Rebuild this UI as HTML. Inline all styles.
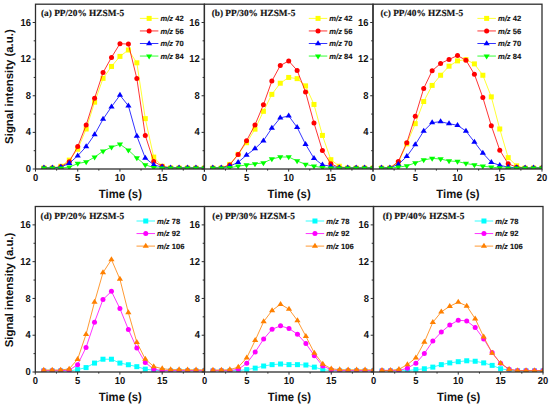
<!DOCTYPE html>
<html><head><meta charset="utf-8"><title>Signal intensity vs time</title>
<style>html,body{margin:0;padding:0;background:#fff;}body{width:550px;height:407px;overflow:hidden;}svg{display:block;text-rendering:geometricPrecision;}.tl{font-family:"Liberation Serif",serif;font-weight:bold;font-size:9.3px;fill:#111;stroke:#111;stroke-width:0.15px;}.tk{font-family:"Liberation Sans",sans-serif;font-weight:bold;font-size:9.4px;fill:#111;}.ax{font-family:"Liberation Sans",sans-serif;font-weight:bold;font-size:11.3px;fill:#111;}.lg{font-family:"Liberation Sans",sans-serif;font-size:7.6px;fill:#111;font-weight:bold;stroke:#111;stroke-width:0.12px;}.lg .it{font-style:italic;}</style></head><body>
<svg width="550" height="407" viewBox="0 0 550 407">
<rect x="0" y="0" width="550" height="407" fill="#fff"/>
<defs>
<clipPath id="c00"><rect x="35.50" y="4.20" width="168.90" height="164.80"/></clipPath>
<clipPath id="c01"><rect x="204.40" y="4.20" width="168.60" height="164.80"/></clipPath>
<clipPath id="c02"><rect x="373.00" y="4.20" width="169.00" height="164.80"/></clipPath>
<clipPath id="c10"><rect x="35.30" y="206.50" width="169.20" height="165.50"/></clipPath>
<clipPath id="c11"><rect x="204.50" y="206.50" width="169.00" height="165.50"/></clipPath>
<clipPath id="c12"><rect x="373.50" y="206.50" width="169.50" height="165.50"/></clipPath>
</defs>
<g clip-path="url(#c00)">
<polyline points="43.95,168.08 52.39,168.08 60.84,166.25 69.28,160.12 77.72,149.22 86.17,128.99 94.61,102.16 103.06,78.36 111.51,66.46 119.95,56.39 128.40,49.98 136.84,62.80 145.29,118.64 153.73,157.10 162.18,166.25 170.62,167.90 179.06,168.08 187.51,168.08 195.95,168.08 204.40,168.08" fill="none" stroke="#FFFF00" stroke-width="0.8" stroke-linejoin="round"/>
<rect x="41.45" y="165.58" width="5.00" height="5.00" fill="#FFFF00"/>
<rect x="49.89" y="165.58" width="5.00" height="5.00" fill="#FFFF00"/>
<rect x="58.34" y="163.75" width="5.00" height="5.00" fill="#FFFF00"/>
<rect x="66.78" y="157.62" width="5.00" height="5.00" fill="#FFFF00"/>
<rect x="75.22" y="146.72" width="5.00" height="5.00" fill="#FFFF00"/>
<rect x="83.67" y="126.49" width="5.00" height="5.00" fill="#FFFF00"/>
<rect x="92.11" y="99.66" width="5.00" height="5.00" fill="#FFFF00"/>
<rect x="100.56" y="75.86" width="5.00" height="5.00" fill="#FFFF00"/>
<rect x="109.01" y="63.96" width="5.00" height="5.00" fill="#FFFF00"/>
<rect x="117.45" y="53.89" width="5.00" height="5.00" fill="#FFFF00"/>
<rect x="125.90" y="47.48" width="5.00" height="5.00" fill="#FFFF00"/>
<rect x="134.34" y="60.30" width="5.00" height="5.00" fill="#FFFF00"/>
<rect x="142.79" y="116.14" width="5.00" height="5.00" fill="#FFFF00"/>
<rect x="151.23" y="154.60" width="5.00" height="5.00" fill="#FFFF00"/>
<rect x="159.68" y="163.75" width="5.00" height="5.00" fill="#FFFF00"/>
<rect x="168.12" y="165.40" width="5.00" height="5.00" fill="#FFFF00"/>
<rect x="176.56" y="165.58" width="5.00" height="5.00" fill="#FFFF00"/>
<rect x="185.01" y="165.58" width="5.00" height="5.00" fill="#FFFF00"/>
<rect x="193.45" y="165.58" width="5.00" height="5.00" fill="#FFFF00"/>
<rect x="201.90" y="165.58" width="5.00" height="5.00" fill="#FFFF00"/>
<polyline points="43.95,168.08 52.39,168.08 60.84,166.80 69.28,161.68 77.72,146.57 86.17,125.05 94.61,98.14 103.06,72.59 111.51,57.39 119.95,43.66 128.40,44.12 136.84,78.45 145.29,135.49 153.73,161.49 162.18,166.25 170.62,167.90 179.06,168.08 187.51,168.08 195.95,168.08 204.40,168.08" fill="none" stroke="#FF0000" stroke-width="0.8" stroke-linejoin="round"/>
<circle cx="43.95" cy="168.08" r="2.50" fill="#FF0000"/>
<circle cx="52.39" cy="168.08" r="2.50" fill="#FF0000"/>
<circle cx="60.84" cy="166.80" r="2.50" fill="#FF0000"/>
<circle cx="69.28" cy="161.68" r="2.50" fill="#FF0000"/>
<circle cx="77.72" cy="146.57" r="2.50" fill="#FF0000"/>
<circle cx="86.17" cy="125.05" r="2.50" fill="#FF0000"/>
<circle cx="94.61" cy="98.14" r="2.50" fill="#FF0000"/>
<circle cx="103.06" cy="72.59" r="2.50" fill="#FF0000"/>
<circle cx="111.51" cy="57.39" r="2.50" fill="#FF0000"/>
<circle cx="119.95" cy="43.66" r="2.50" fill="#FF0000"/>
<circle cx="128.40" cy="44.12" r="2.50" fill="#FF0000"/>
<circle cx="136.84" cy="78.45" r="2.50" fill="#FF0000"/>
<circle cx="145.29" cy="135.49" r="2.50" fill="#FF0000"/>
<circle cx="153.73" cy="161.49" r="2.50" fill="#FF0000"/>
<circle cx="162.18" cy="166.25" r="2.50" fill="#FF0000"/>
<circle cx="170.62" cy="167.90" r="2.50" fill="#FF0000"/>
<circle cx="179.06" cy="168.08" r="2.50" fill="#FF0000"/>
<circle cx="187.51" cy="168.08" r="2.50" fill="#FF0000"/>
<circle cx="195.95" cy="168.08" r="2.50" fill="#FF0000"/>
<circle cx="204.40" cy="168.08" r="2.50" fill="#FF0000"/>
<polyline points="43.95,167.90 52.39,167.90 60.84,167.17 69.28,163.42 77.72,155.72 86.17,146.66 94.61,134.48 103.06,119.19 111.51,106.74 119.95,95.21 128.40,105.83 136.84,136.04 145.29,158.01 153.73,164.88 162.18,167.17 170.62,167.90 179.06,167.90 187.51,167.90 195.95,167.90 204.40,167.90" fill="none" stroke="#0000FF" stroke-width="0.8" stroke-linejoin="round"/>
<path d="M43.95 164.57L47.05 169.57L40.84 169.57Z" fill="#0000FF"/>
<path d="M52.39 164.57L55.49 169.57L49.29 169.57Z" fill="#0000FF"/>
<path d="M60.84 163.84L63.94 168.84L57.73 168.84Z" fill="#0000FF"/>
<path d="M69.28 160.08L72.38 165.08L66.18 165.08Z" fill="#0000FF"/>
<path d="M77.72 152.39L80.82 157.39L74.62 157.39Z" fill="#0000FF"/>
<path d="M86.17 143.33L89.27 148.33L83.07 148.33Z" fill="#0000FF"/>
<path d="M94.61 131.15L97.71 136.15L91.52 136.15Z" fill="#0000FF"/>
<path d="M103.06 115.86L106.16 120.86L99.96 120.86Z" fill="#0000FF"/>
<path d="M111.51 103.41L114.61 108.41L108.41 108.41Z" fill="#0000FF"/>
<path d="M119.95 91.87L123.05 96.87L116.85 96.87Z" fill="#0000FF"/>
<path d="M128.40 102.49L131.50 107.49L125.30 107.49Z" fill="#0000FF"/>
<path d="M136.84 132.71L139.94 137.71L133.74 137.71Z" fill="#0000FF"/>
<path d="M145.29 154.68L148.39 159.68L142.19 159.68Z" fill="#0000FF"/>
<path d="M153.73 161.55L156.83 166.55L150.63 166.55Z" fill="#0000FF"/>
<path d="M162.18 163.84L165.28 168.84L159.08 168.84Z" fill="#0000FF"/>
<path d="M170.62 164.57L173.72 169.57L167.52 169.57Z" fill="#0000FF"/>
<path d="M179.06 164.57L182.16 169.57L175.97 169.57Z" fill="#0000FF"/>
<path d="M187.51 164.57L190.61 169.57L184.41 169.57Z" fill="#0000FF"/>
<path d="M195.95 164.57L199.05 169.57L192.85 169.57Z" fill="#0000FF"/>
<path d="M204.40 164.57L207.50 169.57L201.30 169.57Z" fill="#0000FF"/>
<polyline points="43.95,168.08 52.39,168.08 60.84,168.08 69.28,167.17 77.72,163.51 86.17,161.95 94.61,157.10 103.06,151.15 111.51,147.21 119.95,144.28 128.40,150.14 136.84,158.01 145.29,164.88 153.73,167.63 162.18,168.08 170.62,168.08 179.06,168.08 187.51,168.08 195.95,168.08 204.40,168.08" fill="none" stroke="#00FF00" stroke-width="0.8" stroke-linejoin="round"/>
<path d="M43.95 171.42L47.05 166.42L40.84 166.42Z" fill="#00FF00"/>
<path d="M52.39 171.42L55.49 166.42L49.29 166.42Z" fill="#00FF00"/>
<path d="M60.84 171.42L63.94 166.42L57.73 166.42Z" fill="#00FF00"/>
<path d="M69.28 170.50L72.38 165.50L66.18 165.50Z" fill="#00FF00"/>
<path d="M77.72 166.84L80.82 161.84L74.62 161.84Z" fill="#00FF00"/>
<path d="M86.17 165.28L89.27 160.28L83.07 160.28Z" fill="#00FF00"/>
<path d="M94.61 160.43L97.71 155.43L91.52 155.43Z" fill="#00FF00"/>
<path d="M103.06 154.48L106.16 149.48L99.96 149.48Z" fill="#00FF00"/>
<path d="M111.51 150.54L114.61 145.54L108.41 145.54Z" fill="#00FF00"/>
<path d="M119.95 147.61L123.05 142.61L116.85 142.61Z" fill="#00FF00"/>
<path d="M128.40 153.47L131.50 148.47L125.30 148.47Z" fill="#00FF00"/>
<path d="M136.84 161.35L139.94 156.35L133.74 156.35Z" fill="#00FF00"/>
<path d="M145.29 168.21L148.39 163.21L142.19 163.21Z" fill="#00FF00"/>
<path d="M153.73 170.96L156.83 165.96L150.63 165.96Z" fill="#00FF00"/>
<path d="M162.18 171.42L165.28 166.42L159.08 166.42Z" fill="#00FF00"/>
<path d="M170.62 171.42L173.72 166.42L167.52 166.42Z" fill="#00FF00"/>
<path d="M179.06 171.42L182.16 166.42L175.97 166.42Z" fill="#00FF00"/>
<path d="M187.51 171.42L190.61 166.42L184.41 166.42Z" fill="#00FF00"/>
<path d="M195.95 171.42L199.05 166.42L192.85 166.42Z" fill="#00FF00"/>
<path d="M204.40 171.42L207.50 166.42L201.30 166.42Z" fill="#00FF00"/>
</g>
<line x1="139.90" y1="18.40" x2="158.40" y2="18.40" stroke="#FFFF00" stroke-width="0.8"/>
<rect x="146.65" y="15.90" width="5.00" height="5.00" fill="#FFFF00"/>
<text class="lg" x="160.40" y="21.20"><tspan class="it">m/z</tspan> 42</text>
<line x1="139.90" y1="30.95" x2="158.40" y2="30.95" stroke="#FF0000" stroke-width="0.8"/>
<circle cx="149.15" cy="30.95" r="2.50" fill="#FF0000"/>
<text class="lg" x="160.40" y="33.75"><tspan class="it">m/z</tspan> 56</text>
<line x1="139.90" y1="43.50" x2="158.40" y2="43.50" stroke="#0000FF" stroke-width="0.8"/>
<path d="M149.15 40.17L152.25 45.17L146.05 45.17Z" fill="#0000FF"/>
<text class="lg" x="160.40" y="46.30"><tspan class="it">m/z</tspan> 70</text>
<line x1="139.90" y1="56.05" x2="158.40" y2="56.05" stroke="#00FF00" stroke-width="0.8"/>
<path d="M149.15 59.38L152.25 54.38L146.05 54.38Z" fill="#00FF00"/>
<text class="lg" x="160.40" y="58.85"><tspan class="it">m/z</tspan> 84</text>
<text class="tl" x="41.00" y="15.50">(a) PP/20% HZSM-5</text>
<g clip-path="url(#c01)">
<polyline points="212.83,168.08 221.26,168.08 229.69,164.42 238.12,154.35 246.55,142.72 254.98,129.17 263.41,111.32 271.84,94.38 280.27,83.21 288.70,77.44 297.13,78.63 305.56,85.87 313.99,104.45 322.42,135.40 330.85,159.66 339.28,166.25 347.71,168.08 356.14,168.08 364.57,168.08 373.00,168.08" fill="none" stroke="#FFFF00" stroke-width="0.8" stroke-linejoin="round"/>
<rect x="210.33" y="165.58" width="5.00" height="5.00" fill="#FFFF00"/>
<rect x="218.76" y="165.58" width="5.00" height="5.00" fill="#FFFF00"/>
<rect x="227.19" y="161.92" width="5.00" height="5.00" fill="#FFFF00"/>
<rect x="235.62" y="151.85" width="5.00" height="5.00" fill="#FFFF00"/>
<rect x="244.05" y="140.22" width="5.00" height="5.00" fill="#FFFF00"/>
<rect x="252.48" y="126.67" width="5.00" height="5.00" fill="#FFFF00"/>
<rect x="260.91" y="108.82" width="5.00" height="5.00" fill="#FFFF00"/>
<rect x="269.34" y="91.88" width="5.00" height="5.00" fill="#FFFF00"/>
<rect x="277.77" y="80.71" width="5.00" height="5.00" fill="#FFFF00"/>
<rect x="286.20" y="74.94" width="5.00" height="5.00" fill="#FFFF00"/>
<rect x="294.63" y="76.13" width="5.00" height="5.00" fill="#FFFF00"/>
<rect x="303.06" y="83.37" width="5.00" height="5.00" fill="#FFFF00"/>
<rect x="311.49" y="101.95" width="5.00" height="5.00" fill="#FFFF00"/>
<rect x="319.92" y="132.90" width="5.00" height="5.00" fill="#FFFF00"/>
<rect x="328.35" y="157.16" width="5.00" height="5.00" fill="#FFFF00"/>
<rect x="336.78" y="163.75" width="5.00" height="5.00" fill="#FFFF00"/>
<rect x="345.21" y="165.58" width="5.00" height="5.00" fill="#FFFF00"/>
<rect x="353.64" y="165.58" width="5.00" height="5.00" fill="#FFFF00"/>
<rect x="362.07" y="165.58" width="5.00" height="5.00" fill="#FFFF00"/>
<rect x="370.50" y="165.58" width="5.00" height="5.00" fill="#FFFF00"/>
<polyline points="212.83,168.08 221.26,168.08 229.69,164.88 238.12,154.53 246.55,140.71 254.98,124.96 263.41,104.73 271.84,81.11 280.27,65.54 288.70,60.96 297.13,70.39 305.56,92.00 313.99,123.04 322.42,150.51 330.85,163.87 339.28,167.63 347.71,168.08 356.14,168.08 364.57,168.08 373.00,168.08" fill="none" stroke="#FF0000" stroke-width="0.8" stroke-linejoin="round"/>
<circle cx="212.83" cy="168.08" r="2.50" fill="#FF0000"/>
<circle cx="221.26" cy="168.08" r="2.50" fill="#FF0000"/>
<circle cx="229.69" cy="164.88" r="2.50" fill="#FF0000"/>
<circle cx="238.12" cy="154.53" r="2.50" fill="#FF0000"/>
<circle cx="246.55" cy="140.71" r="2.50" fill="#FF0000"/>
<circle cx="254.98" cy="124.96" r="2.50" fill="#FF0000"/>
<circle cx="263.41" cy="104.73" r="2.50" fill="#FF0000"/>
<circle cx="271.84" cy="81.11" r="2.50" fill="#FF0000"/>
<circle cx="280.27" cy="65.54" r="2.50" fill="#FF0000"/>
<circle cx="288.70" cy="60.96" r="2.50" fill="#FF0000"/>
<circle cx="297.13" cy="70.39" r="2.50" fill="#FF0000"/>
<circle cx="305.56" cy="92.00" r="2.50" fill="#FF0000"/>
<circle cx="313.99" cy="123.04" r="2.50" fill="#FF0000"/>
<circle cx="322.42" cy="150.51" r="2.50" fill="#FF0000"/>
<circle cx="330.85" cy="163.87" r="2.50" fill="#FF0000"/>
<circle cx="339.28" cy="167.63" r="2.50" fill="#FF0000"/>
<circle cx="347.71" cy="168.08" r="2.50" fill="#FF0000"/>
<circle cx="356.14" cy="168.08" r="2.50" fill="#FF0000"/>
<circle cx="364.57" cy="168.08" r="2.50" fill="#FF0000"/>
<circle cx="373.00" cy="168.08" r="2.50" fill="#FF0000"/>
<polyline points="212.83,167.90 221.26,167.90 229.69,166.25 238.12,162.32 246.55,155.08 254.98,148.67 263.41,140.71 271.84,128.17 280.27,117.91 288.70,115.90 297.13,127.34 305.56,144.28 313.99,158.38 322.42,164.88 330.85,166.25 339.28,167.90 347.71,167.90 356.14,167.90 364.57,167.90 373.00,167.90" fill="none" stroke="#0000FF" stroke-width="0.8" stroke-linejoin="round"/>
<path d="M212.83 164.57L215.93 169.57L209.73 169.57Z" fill="#0000FF"/>
<path d="M221.26 164.57L224.36 169.57L218.16 169.57Z" fill="#0000FF"/>
<path d="M229.69 162.92L232.79 167.92L226.59 167.92Z" fill="#0000FF"/>
<path d="M238.12 158.98L241.22 163.98L235.02 163.98Z" fill="#0000FF"/>
<path d="M246.55 151.75L249.65 156.75L243.45 156.75Z" fill="#0000FF"/>
<path d="M254.98 145.34L258.08 150.34L251.88 150.34Z" fill="#0000FF"/>
<path d="M263.41 137.38L266.51 142.38L260.31 142.38Z" fill="#0000FF"/>
<path d="M271.84 124.83L274.94 129.83L268.74 129.83Z" fill="#0000FF"/>
<path d="M280.27 114.58L283.37 119.58L277.17 119.58Z" fill="#0000FF"/>
<path d="M288.70 112.56L291.80 117.56L285.60 117.56Z" fill="#0000FF"/>
<path d="M297.13 124.01L300.23 129.01L294.03 129.01Z" fill="#0000FF"/>
<path d="M305.56 140.95L308.66 145.95L302.46 145.95Z" fill="#0000FF"/>
<path d="M313.99 155.05L317.09 160.05L310.89 160.05Z" fill="#0000FF"/>
<path d="M322.42 161.55L325.52 166.55L319.32 166.55Z" fill="#0000FF"/>
<path d="M330.85 162.92L333.95 167.92L327.75 167.92Z" fill="#0000FF"/>
<path d="M339.28 164.57L342.38 169.57L336.18 169.57Z" fill="#0000FF"/>
<path d="M347.71 164.57L350.81 169.57L344.61 169.57Z" fill="#0000FF"/>
<path d="M356.14 164.57L359.24 169.57L353.04 169.57Z" fill="#0000FF"/>
<path d="M364.57 164.57L367.67 169.57L361.47 169.57Z" fill="#0000FF"/>
<path d="M373.00 164.57L376.10 169.57L369.90 169.57Z" fill="#0000FF"/>
<polyline points="212.83,168.08 221.26,168.08 229.69,167.63 238.12,166.25 246.55,164.88 254.98,163.87 263.41,162.87 271.84,159.02 280.27,157.01 288.70,157.01 297.13,160.94 305.56,164.33 313.99,166.25 322.42,167.63 330.85,168.08 339.28,168.08 347.71,168.08 356.14,168.08 364.57,168.08 373.00,168.08" fill="none" stroke="#00FF00" stroke-width="0.8" stroke-linejoin="round"/>
<path d="M212.83 171.42L215.93 166.42L209.73 166.42Z" fill="#00FF00"/>
<path d="M221.26 171.42L224.36 166.42L218.16 166.42Z" fill="#00FF00"/>
<path d="M229.69 170.96L232.79 165.96L226.59 165.96Z" fill="#00FF00"/>
<path d="M238.12 169.59L241.22 164.59L235.02 164.59Z" fill="#00FF00"/>
<path d="M246.55 168.21L249.65 163.21L243.45 163.21Z" fill="#00FF00"/>
<path d="M254.98 167.21L258.08 162.21L251.88 162.21Z" fill="#00FF00"/>
<path d="M263.41 166.20L266.51 161.20L260.31 161.20Z" fill="#00FF00"/>
<path d="M271.84 162.35L274.94 157.35L268.74 157.35Z" fill="#00FF00"/>
<path d="M280.27 160.34L283.37 155.34L277.17 155.34Z" fill="#00FF00"/>
<path d="M288.70 160.34L291.80 155.34L285.60 155.34Z" fill="#00FF00"/>
<path d="M297.13 164.28L300.23 159.28L294.03 159.28Z" fill="#00FF00"/>
<path d="M305.56 167.66L308.66 162.66L302.46 162.66Z" fill="#00FF00"/>
<path d="M313.99 169.59L317.09 164.59L310.89 164.59Z" fill="#00FF00"/>
<path d="M322.42 170.96L325.52 165.96L319.32 165.96Z" fill="#00FF00"/>
<path d="M330.85 171.42L333.95 166.42L327.75 166.42Z" fill="#00FF00"/>
<path d="M339.28 171.42L342.38 166.42L336.18 166.42Z" fill="#00FF00"/>
<path d="M347.71 171.42L350.81 166.42L344.61 166.42Z" fill="#00FF00"/>
<path d="M356.14 171.42L359.24 166.42L353.04 166.42Z" fill="#00FF00"/>
<path d="M364.57 171.42L367.67 166.42L361.47 166.42Z" fill="#00FF00"/>
<path d="M373.00 171.42L376.10 166.42L369.90 166.42Z" fill="#00FF00"/>
</g>
<line x1="308.80" y1="18.40" x2="327.30" y2="18.40" stroke="#FFFF00" stroke-width="0.8"/>
<rect x="315.55" y="15.90" width="5.00" height="5.00" fill="#FFFF00"/>
<text class="lg" x="329.30" y="21.20"><tspan class="it">m/z</tspan> 42</text>
<line x1="308.80" y1="30.95" x2="327.30" y2="30.95" stroke="#FF0000" stroke-width="0.8"/>
<circle cx="318.05" cy="30.95" r="2.50" fill="#FF0000"/>
<text class="lg" x="329.30" y="33.75"><tspan class="it">m/z</tspan> 56</text>
<line x1="308.80" y1="43.50" x2="327.30" y2="43.50" stroke="#0000FF" stroke-width="0.8"/>
<path d="M318.05 40.17L321.15 45.17L314.95 45.17Z" fill="#0000FF"/>
<text class="lg" x="329.30" y="46.30"><tspan class="it">m/z</tspan> 70</text>
<line x1="308.80" y1="56.05" x2="327.30" y2="56.05" stroke="#00FF00" stroke-width="0.8"/>
<path d="M318.05 59.38L321.15 54.38L314.95 54.38Z" fill="#00FF00"/>
<text class="lg" x="329.30" y="58.85"><tspan class="it">m/z</tspan> 84</text>
<text class="tl" x="211.70" y="15.50">(b) PP/30% HZSM-5</text>
<g clip-path="url(#c02)">
<polyline points="381.45,168.08 389.90,168.08 398.35,162.59 406.80,143.82 415.25,123.68 423.70,101.52 432.15,85.41 440.60,75.25 449.05,66.18 457.50,60.87 465.95,59.59 474.40,63.89 482.85,75.25 491.30,96.85 499.75,128.99 508.20,157.65 516.65,165.80 525.10,168.08 533.55,168.08 542.00,168.08" fill="none" stroke="#FFFF00" stroke-width="0.8" stroke-linejoin="round"/>
<rect x="378.95" y="165.58" width="5.00" height="5.00" fill="#FFFF00"/>
<rect x="387.40" y="165.58" width="5.00" height="5.00" fill="#FFFF00"/>
<rect x="395.85" y="160.09" width="5.00" height="5.00" fill="#FFFF00"/>
<rect x="404.30" y="141.32" width="5.00" height="5.00" fill="#FFFF00"/>
<rect x="412.75" y="121.18" width="5.00" height="5.00" fill="#FFFF00"/>
<rect x="421.20" y="99.02" width="5.00" height="5.00" fill="#FFFF00"/>
<rect x="429.65" y="82.91" width="5.00" height="5.00" fill="#FFFF00"/>
<rect x="438.10" y="72.75" width="5.00" height="5.00" fill="#FFFF00"/>
<rect x="446.55" y="63.68" width="5.00" height="5.00" fill="#FFFF00"/>
<rect x="455.00" y="58.37" width="5.00" height="5.00" fill="#FFFF00"/>
<rect x="463.45" y="57.09" width="5.00" height="5.00" fill="#FFFF00"/>
<rect x="471.90" y="61.39" width="5.00" height="5.00" fill="#FFFF00"/>
<rect x="480.35" y="72.75" width="5.00" height="5.00" fill="#FFFF00"/>
<rect x="488.80" y="94.35" width="5.00" height="5.00" fill="#FFFF00"/>
<rect x="497.25" y="126.49" width="5.00" height="5.00" fill="#FFFF00"/>
<rect x="505.70" y="155.15" width="5.00" height="5.00" fill="#FFFF00"/>
<rect x="514.15" y="163.30" width="5.00" height="5.00" fill="#FFFF00"/>
<rect x="522.60" y="165.58" width="5.00" height="5.00" fill="#FFFF00"/>
<rect x="531.05" y="165.58" width="5.00" height="5.00" fill="#FFFF00"/>
<rect x="539.50" y="165.58" width="5.00" height="5.00" fill="#FFFF00"/>
<polyline points="381.45,168.08 389.90,168.08 398.35,161.49 406.80,142.72 415.25,116.36 423.70,88.43 432.15,70.76 440.60,63.44 449.05,59.41 457.50,55.56 465.95,60.23 474.40,74.24 482.85,97.59 491.30,125.69 499.75,150.14 508.20,163.87 516.65,167.17 525.10,168.08 533.55,168.08 542.00,168.08" fill="none" stroke="#FF0000" stroke-width="0.8" stroke-linejoin="round"/>
<circle cx="381.45" cy="168.08" r="2.50" fill="#FF0000"/>
<circle cx="389.90" cy="168.08" r="2.50" fill="#FF0000"/>
<circle cx="398.35" cy="161.49" r="2.50" fill="#FF0000"/>
<circle cx="406.80" cy="142.72" r="2.50" fill="#FF0000"/>
<circle cx="415.25" cy="116.36" r="2.50" fill="#FF0000"/>
<circle cx="423.70" cy="88.43" r="2.50" fill="#FF0000"/>
<circle cx="432.15" cy="70.76" r="2.50" fill="#FF0000"/>
<circle cx="440.60" cy="63.44" r="2.50" fill="#FF0000"/>
<circle cx="449.05" cy="59.41" r="2.50" fill="#FF0000"/>
<circle cx="457.50" cy="55.56" r="2.50" fill="#FF0000"/>
<circle cx="465.95" cy="60.23" r="2.50" fill="#FF0000"/>
<circle cx="474.40" cy="74.24" r="2.50" fill="#FF0000"/>
<circle cx="482.85" cy="97.59" r="2.50" fill="#FF0000"/>
<circle cx="491.30" cy="125.69" r="2.50" fill="#FF0000"/>
<circle cx="499.75" cy="150.14" r="2.50" fill="#FF0000"/>
<circle cx="508.20" cy="163.87" r="2.50" fill="#FF0000"/>
<circle cx="516.65" cy="167.17" r="2.50" fill="#FF0000"/>
<circle cx="525.10" cy="168.08" r="2.50" fill="#FF0000"/>
<circle cx="533.55" cy="168.08" r="2.50" fill="#FF0000"/>
<circle cx="542.00" cy="168.08" r="2.50" fill="#FF0000"/>
<polyline points="381.45,167.90 389.90,167.90 398.35,164.33 406.80,156.46 415.25,144.65 423.70,131.00 432.15,122.67 440.60,121.67 449.05,123.68 457.50,125.33 465.95,131.00 474.40,141.99 482.85,153.16 491.30,162.32 499.75,165.34 508.20,167.17 516.65,167.90 525.10,167.90 533.55,167.90 542.00,167.90" fill="none" stroke="#0000FF" stroke-width="0.8" stroke-linejoin="round"/>
<path d="M381.45 164.57L384.55 169.57L378.35 169.57Z" fill="#0000FF"/>
<path d="M389.90 164.57L393.00 169.57L386.80 169.57Z" fill="#0000FF"/>
<path d="M398.35 161.00L401.45 166.00L395.25 166.00Z" fill="#0000FF"/>
<path d="M406.80 153.12L409.90 158.12L403.70 158.12Z" fill="#0000FF"/>
<path d="M415.25 141.31L418.35 146.31L412.15 146.31Z" fill="#0000FF"/>
<path d="M423.70 127.67L426.80 132.67L420.60 132.67Z" fill="#0000FF"/>
<path d="M432.15 119.34L435.25 124.34L429.05 124.34Z" fill="#0000FF"/>
<path d="M440.60 118.33L443.70 123.33L437.50 123.33Z" fill="#0000FF"/>
<path d="M449.05 120.35L452.15 125.35L445.95 125.35Z" fill="#0000FF"/>
<path d="M457.50 121.99L460.60 126.99L454.40 126.99Z" fill="#0000FF"/>
<path d="M465.95 127.67L469.05 132.67L462.85 132.67Z" fill="#0000FF"/>
<path d="M474.40 138.66L477.50 143.66L471.30 143.66Z" fill="#0000FF"/>
<path d="M482.85 149.83L485.95 154.83L479.75 154.83Z" fill="#0000FF"/>
<path d="M491.30 158.98L494.40 163.98L488.20 163.98Z" fill="#0000FF"/>
<path d="M499.75 162.00L502.85 167.00L496.65 167.00Z" fill="#0000FF"/>
<path d="M508.20 163.84L511.30 168.84L505.10 168.84Z" fill="#0000FF"/>
<path d="M516.65 164.57L519.75 169.57L513.55 169.57Z" fill="#0000FF"/>
<path d="M525.10 164.57L528.20 169.57L522.00 169.57Z" fill="#0000FF"/>
<path d="M533.55 164.57L536.65 169.57L530.45 169.57Z" fill="#0000FF"/>
<path d="M542.00 164.57L545.10 169.57L538.90 169.57Z" fill="#0000FF"/>
<polyline points="381.45,168.08 389.90,168.08 398.35,167.17 406.80,165.89 415.25,162.87 423.70,160.03 432.15,158.38 440.60,159.02 449.05,160.94 457.50,161.49 465.95,163.51 474.40,164.88 482.85,166.25 491.30,167.17 499.75,167.90 508.20,168.08 516.65,168.08 525.10,168.08 533.55,168.08 542.00,168.08" fill="none" stroke="#00FF00" stroke-width="0.8" stroke-linejoin="round"/>
<path d="M381.45 171.42L384.55 166.42L378.35 166.42Z" fill="#00FF00"/>
<path d="M389.90 171.42L393.00 166.42L386.80 166.42Z" fill="#00FF00"/>
<path d="M398.35 170.50L401.45 165.50L395.25 165.50Z" fill="#00FF00"/>
<path d="M406.80 169.22L409.90 164.22L403.70 164.22Z" fill="#00FF00"/>
<path d="M415.25 166.20L418.35 161.20L412.15 161.20Z" fill="#00FF00"/>
<path d="M423.70 163.36L426.80 158.36L420.60 158.36Z" fill="#00FF00"/>
<path d="M432.15 161.71L435.25 156.71L429.05 156.71Z" fill="#00FF00"/>
<path d="M440.60 162.35L443.70 157.35L437.50 157.35Z" fill="#00FF00"/>
<path d="M449.05 164.28L452.15 159.28L445.95 159.28Z" fill="#00FF00"/>
<path d="M457.50 164.83L460.60 159.83L454.40 159.83Z" fill="#00FF00"/>
<path d="M465.95 166.84L469.05 161.84L462.85 161.84Z" fill="#00FF00"/>
<path d="M474.40 168.21L477.50 163.21L471.30 163.21Z" fill="#00FF00"/>
<path d="M482.85 169.59L485.95 164.59L479.75 164.59Z" fill="#00FF00"/>
<path d="M491.30 170.50L494.40 165.50L488.20 165.50Z" fill="#00FF00"/>
<path d="M499.75 171.23L502.85 166.23L496.65 166.23Z" fill="#00FF00"/>
<path d="M508.20 171.42L511.30 166.42L505.10 166.42Z" fill="#00FF00"/>
<path d="M516.65 171.42L519.75 166.42L513.55 166.42Z" fill="#00FF00"/>
<path d="M525.10 171.42L528.20 166.42L522.00 166.42Z" fill="#00FF00"/>
<path d="M533.55 171.42L536.65 166.42L530.45 166.42Z" fill="#00FF00"/>
<path d="M542.00 171.42L545.10 166.42L538.90 166.42Z" fill="#00FF00"/>
</g>
<line x1="477.40" y1="18.40" x2="495.90" y2="18.40" stroke="#FFFF00" stroke-width="0.8"/>
<rect x="484.15" y="15.90" width="5.00" height="5.00" fill="#FFFF00"/>
<text class="lg" x="497.90" y="21.20"><tspan class="it">m/z</tspan> 42</text>
<line x1="477.40" y1="30.95" x2="495.90" y2="30.95" stroke="#FF0000" stroke-width="0.8"/>
<circle cx="486.65" cy="30.95" r="2.50" fill="#FF0000"/>
<text class="lg" x="497.90" y="33.75"><tspan class="it">m/z</tspan> 56</text>
<line x1="477.40" y1="43.50" x2="495.90" y2="43.50" stroke="#0000FF" stroke-width="0.8"/>
<path d="M486.65 40.17L489.75 45.17L483.55 45.17Z" fill="#0000FF"/>
<text class="lg" x="497.90" y="46.30"><tspan class="it">m/z</tspan> 70</text>
<line x1="477.40" y1="56.05" x2="495.90" y2="56.05" stroke="#00FF00" stroke-width="0.8"/>
<path d="M486.65 59.38L489.75 54.38L483.55 54.38Z" fill="#00FF00"/>
<text class="lg" x="497.90" y="58.85"><tspan class="it">m/z</tspan> 84</text>
<text class="tl" x="380.50" y="15.50">(c) PP/40% HZSM-5</text>
<rect x="35.50" y="4.20" width="168.90" height="164.80" fill="none" stroke="#2e2e2e" stroke-width="1.3"/>
<line x1="35.50" y1="169.00" x2="35.50" y2="171.60" stroke="#2e2e2e" stroke-width="1"/>
<line x1="77.72" y1="169.00" x2="77.72" y2="171.60" stroke="#2e2e2e" stroke-width="1"/>
<line x1="119.95" y1="169.00" x2="119.95" y2="171.60" stroke="#2e2e2e" stroke-width="1"/>
<line x1="162.18" y1="169.00" x2="162.18" y2="171.60" stroke="#2e2e2e" stroke-width="1"/>
<line x1="204.40" y1="169.00" x2="204.40" y2="171.60" stroke="#2e2e2e" stroke-width="1"/>
<line x1="56.61" y1="169.00" x2="56.61" y2="170.60" stroke="#2e2e2e" stroke-width="1"/>
<line x1="98.84" y1="169.00" x2="98.84" y2="170.60" stroke="#2e2e2e" stroke-width="1"/>
<line x1="141.06" y1="169.00" x2="141.06" y2="170.60" stroke="#2e2e2e" stroke-width="1"/>
<line x1="183.29" y1="169.00" x2="183.29" y2="170.60" stroke="#2e2e2e" stroke-width="1"/>
<text class="tk" transform="translate(35.50 180.80) scale(1 1.07)" text-anchor="middle">0</text>
<text class="tk" transform="translate(77.72 180.80) scale(1 1.07)" text-anchor="middle">5</text>
<text class="tk" transform="translate(119.95 180.80) scale(1 1.07)" text-anchor="middle">10</text>
<text class="tk" transform="translate(162.18 180.80) scale(1 1.07)" text-anchor="middle">15</text>
<line x1="32.70" y1="169.00" x2="35.50" y2="169.00" stroke="#2e2e2e" stroke-width="1"/>
<line x1="33.70" y1="150.69" x2="35.50" y2="150.69" stroke="#2e2e2e" stroke-width="1"/>
<line x1="32.70" y1="132.38" x2="35.50" y2="132.38" stroke="#2e2e2e" stroke-width="1"/>
<line x1="33.70" y1="114.07" x2="35.50" y2="114.07" stroke="#2e2e2e" stroke-width="1"/>
<line x1="32.70" y1="95.76" x2="35.50" y2="95.76" stroke="#2e2e2e" stroke-width="1"/>
<line x1="33.70" y1="77.44" x2="35.50" y2="77.44" stroke="#2e2e2e" stroke-width="1"/>
<line x1="32.70" y1="59.13" x2="35.50" y2="59.13" stroke="#2e2e2e" stroke-width="1"/>
<line x1="33.70" y1="40.82" x2="35.50" y2="40.82" stroke="#2e2e2e" stroke-width="1"/>
<line x1="32.70" y1="22.51" x2="35.50" y2="22.51" stroke="#2e2e2e" stroke-width="1"/>
<text class="tk" transform="translate(30.90 172.10) scale(1 1.07)" text-anchor="end">0</text>
<text class="tk" transform="translate(30.90 135.48) scale(1 1.07)" text-anchor="end">4</text>
<text class="tk" transform="translate(30.90 98.86) scale(1 1.07)" text-anchor="end">8</text>
<text class="tk" transform="translate(30.90 62.23) scale(1 1.07)" text-anchor="end">12</text>
<text class="tk" transform="translate(30.90 25.61) scale(1 1.07)" text-anchor="end">16</text>
<text class="ax" transform="translate(120.35 197.60) scale(1 1.07)" text-anchor="middle">Time (s)</text>
<rect x="204.40" y="4.20" width="168.60" height="164.80" fill="none" stroke="#2e2e2e" stroke-width="1.3"/>
<line x1="204.40" y1="169.00" x2="204.40" y2="171.60" stroke="#2e2e2e" stroke-width="1"/>
<line x1="246.55" y1="169.00" x2="246.55" y2="171.60" stroke="#2e2e2e" stroke-width="1"/>
<line x1="288.70" y1="169.00" x2="288.70" y2="171.60" stroke="#2e2e2e" stroke-width="1"/>
<line x1="330.85" y1="169.00" x2="330.85" y2="171.60" stroke="#2e2e2e" stroke-width="1"/>
<line x1="373.00" y1="169.00" x2="373.00" y2="171.60" stroke="#2e2e2e" stroke-width="1"/>
<line x1="225.47" y1="169.00" x2="225.47" y2="170.60" stroke="#2e2e2e" stroke-width="1"/>
<line x1="267.62" y1="169.00" x2="267.62" y2="170.60" stroke="#2e2e2e" stroke-width="1"/>
<line x1="309.77" y1="169.00" x2="309.77" y2="170.60" stroke="#2e2e2e" stroke-width="1"/>
<line x1="351.93" y1="169.00" x2="351.93" y2="170.60" stroke="#2e2e2e" stroke-width="1"/>
<text class="tk" transform="translate(204.40 180.80) scale(1 1.07)" text-anchor="middle">0</text>
<text class="tk" transform="translate(246.55 180.80) scale(1 1.07)" text-anchor="middle">5</text>
<text class="tk" transform="translate(288.70 180.80) scale(1 1.07)" text-anchor="middle">10</text>
<text class="tk" transform="translate(330.85 180.80) scale(1 1.07)" text-anchor="middle">15</text>
<line x1="201.60" y1="169.00" x2="204.40" y2="169.00" stroke="#2e2e2e" stroke-width="1"/>
<line x1="202.60" y1="150.69" x2="204.40" y2="150.69" stroke="#2e2e2e" stroke-width="1"/>
<line x1="201.60" y1="132.38" x2="204.40" y2="132.38" stroke="#2e2e2e" stroke-width="1"/>
<line x1="202.60" y1="114.07" x2="204.40" y2="114.07" stroke="#2e2e2e" stroke-width="1"/>
<line x1="201.60" y1="95.76" x2="204.40" y2="95.76" stroke="#2e2e2e" stroke-width="1"/>
<line x1="202.60" y1="77.44" x2="204.40" y2="77.44" stroke="#2e2e2e" stroke-width="1"/>
<line x1="201.60" y1="59.13" x2="204.40" y2="59.13" stroke="#2e2e2e" stroke-width="1"/>
<line x1="202.60" y1="40.82" x2="204.40" y2="40.82" stroke="#2e2e2e" stroke-width="1"/>
<line x1="201.60" y1="22.51" x2="204.40" y2="22.51" stroke="#2e2e2e" stroke-width="1"/>
<text class="tk" transform="translate(199.80 135.48) scale(1 1.07)" text-anchor="end">4</text>
<text class="tk" transform="translate(199.80 98.86) scale(1 1.07)" text-anchor="end">8</text>
<text class="tk" transform="translate(199.80 62.23) scale(1 1.07)" text-anchor="end">12</text>
<text class="tk" transform="translate(199.80 25.61) scale(1 1.07)" text-anchor="end">16</text>
<text class="ax" transform="translate(289.10 197.60) scale(1 1.07)" text-anchor="middle">Time (s)</text>
<rect x="373.00" y="4.20" width="169.00" height="164.80" fill="none" stroke="#2e2e2e" stroke-width="1.3"/>
<line x1="373.00" y1="169.00" x2="373.00" y2="171.60" stroke="#2e2e2e" stroke-width="1"/>
<line x1="415.25" y1="169.00" x2="415.25" y2="171.60" stroke="#2e2e2e" stroke-width="1"/>
<line x1="457.50" y1="169.00" x2="457.50" y2="171.60" stroke="#2e2e2e" stroke-width="1"/>
<line x1="499.75" y1="169.00" x2="499.75" y2="171.60" stroke="#2e2e2e" stroke-width="1"/>
<line x1="542.00" y1="169.00" x2="542.00" y2="171.60" stroke="#2e2e2e" stroke-width="1"/>
<line x1="394.12" y1="169.00" x2="394.12" y2="170.60" stroke="#2e2e2e" stroke-width="1"/>
<line x1="436.38" y1="169.00" x2="436.38" y2="170.60" stroke="#2e2e2e" stroke-width="1"/>
<line x1="478.62" y1="169.00" x2="478.62" y2="170.60" stroke="#2e2e2e" stroke-width="1"/>
<line x1="520.88" y1="169.00" x2="520.88" y2="170.60" stroke="#2e2e2e" stroke-width="1"/>
<text class="tk" transform="translate(373.00 180.80) scale(1 1.07)" text-anchor="middle">0</text>
<text class="tk" transform="translate(415.25 180.80) scale(1 1.07)" text-anchor="middle">5</text>
<text class="tk" transform="translate(457.50 180.80) scale(1 1.07)" text-anchor="middle">10</text>
<text class="tk" transform="translate(499.75 180.80) scale(1 1.07)" text-anchor="middle">15</text>
<text class="tk" transform="translate(542.00 180.80) scale(1 1.07)" text-anchor="middle">20</text>
<line x1="370.20" y1="169.00" x2="373.00" y2="169.00" stroke="#2e2e2e" stroke-width="1"/>
<line x1="371.20" y1="150.69" x2="373.00" y2="150.69" stroke="#2e2e2e" stroke-width="1"/>
<line x1="370.20" y1="132.38" x2="373.00" y2="132.38" stroke="#2e2e2e" stroke-width="1"/>
<line x1="371.20" y1="114.07" x2="373.00" y2="114.07" stroke="#2e2e2e" stroke-width="1"/>
<line x1="370.20" y1="95.76" x2="373.00" y2="95.76" stroke="#2e2e2e" stroke-width="1"/>
<line x1="371.20" y1="77.44" x2="373.00" y2="77.44" stroke="#2e2e2e" stroke-width="1"/>
<line x1="370.20" y1="59.13" x2="373.00" y2="59.13" stroke="#2e2e2e" stroke-width="1"/>
<line x1="371.20" y1="40.82" x2="373.00" y2="40.82" stroke="#2e2e2e" stroke-width="1"/>
<line x1="370.20" y1="22.51" x2="373.00" y2="22.51" stroke="#2e2e2e" stroke-width="1"/>
<text class="tk" transform="translate(368.40 135.48) scale(1 1.07)" text-anchor="end">4</text>
<text class="tk" transform="translate(368.40 98.86) scale(1 1.07)" text-anchor="end">8</text>
<text class="tk" transform="translate(368.40 62.23) scale(1 1.07)" text-anchor="end">12</text>
<text class="tk" transform="translate(368.40 25.61) scale(1 1.07)" text-anchor="end">16</text>
<text class="ax" transform="translate(457.90 197.60) scale(1 1.07)" text-anchor="middle">Time (s)</text>
<text class="ax" style="font-size:11.4px" transform="translate(13.3 86.60) rotate(-90)" x="0" y="0" text-anchor="middle">Signal intensity (a.u.)</text>
<g clip-path="url(#c10)">
<polyline points="43.76,370.90 52.22,370.90 60.68,370.90 69.14,370.90 77.60,369.61 86.06,367.59 94.52,363.08 102.98,359.22 111.44,359.22 119.90,363.08 128.36,364.74 136.82,366.67 145.28,369.15 153.74,370.16 162.20,370.62 170.66,370.90 179.12,370.90 187.58,370.90 196.04,370.90 204.50,370.90" fill="none" stroke="#00FFFF" stroke-width="0.8" stroke-linejoin="round"/>
<rect x="41.26" y="368.40" width="5.00" height="5.00" fill="#00FFFF"/>
<rect x="49.72" y="368.40" width="5.00" height="5.00" fill="#00FFFF"/>
<rect x="58.18" y="368.40" width="5.00" height="5.00" fill="#00FFFF"/>
<rect x="66.64" y="368.40" width="5.00" height="5.00" fill="#00FFFF"/>
<rect x="75.10" y="367.11" width="5.00" height="5.00" fill="#00FFFF"/>
<rect x="83.56" y="365.09" width="5.00" height="5.00" fill="#00FFFF"/>
<rect x="92.02" y="360.58" width="5.00" height="5.00" fill="#00FFFF"/>
<rect x="100.48" y="356.72" width="5.00" height="5.00" fill="#00FFFF"/>
<rect x="108.94" y="356.72" width="5.00" height="5.00" fill="#00FFFF"/>
<rect x="117.40" y="360.58" width="5.00" height="5.00" fill="#00FFFF"/>
<rect x="125.86" y="362.24" width="5.00" height="5.00" fill="#00FFFF"/>
<rect x="134.32" y="364.17" width="5.00" height="5.00" fill="#00FFFF"/>
<rect x="142.78" y="366.65" width="5.00" height="5.00" fill="#00FFFF"/>
<rect x="151.24" y="367.66" width="5.00" height="5.00" fill="#00FFFF"/>
<rect x="159.70" y="368.12" width="5.00" height="5.00" fill="#00FFFF"/>
<rect x="168.16" y="368.40" width="5.00" height="5.00" fill="#00FFFF"/>
<rect x="176.62" y="368.40" width="5.00" height="5.00" fill="#00FFFF"/>
<rect x="185.08" y="368.40" width="5.00" height="5.00" fill="#00FFFF"/>
<rect x="193.54" y="368.40" width="5.00" height="5.00" fill="#00FFFF"/>
<rect x="202.00" y="368.40" width="5.00" height="5.00" fill="#00FFFF"/>
<polyline points="43.76,370.62 52.22,370.62 60.68,370.62 69.14,370.16 77.60,364.74 86.06,347.45 94.52,322.17 102.98,299.55 111.44,291.36 119.90,308.56 128.36,329.43 136.82,348.09 145.28,362.53 153.74,369.24 162.20,370.62 170.66,370.62 179.12,370.62 187.58,370.62 196.04,370.62 204.50,370.62" fill="none" stroke="#FF00FF" stroke-width="0.8" stroke-linejoin="round"/>
<circle cx="43.76" cy="370.62" r="2.50" fill="#FF00FF"/>
<circle cx="52.22" cy="370.62" r="2.50" fill="#FF00FF"/>
<circle cx="60.68" cy="370.62" r="2.50" fill="#FF00FF"/>
<circle cx="69.14" cy="370.16" r="2.50" fill="#FF00FF"/>
<circle cx="77.60" cy="364.74" r="2.50" fill="#FF00FF"/>
<circle cx="86.06" cy="347.45" r="2.50" fill="#FF00FF"/>
<circle cx="94.52" cy="322.17" r="2.50" fill="#FF00FF"/>
<circle cx="102.98" cy="299.55" r="2.50" fill="#FF00FF"/>
<circle cx="111.44" cy="291.36" r="2.50" fill="#FF00FF"/>
<circle cx="119.90" cy="308.56" r="2.50" fill="#FF00FF"/>
<circle cx="128.36" cy="329.43" r="2.50" fill="#FF00FF"/>
<circle cx="136.82" cy="348.09" r="2.50" fill="#FF00FF"/>
<circle cx="145.28" cy="362.53" r="2.50" fill="#FF00FF"/>
<circle cx="153.74" cy="369.24" r="2.50" fill="#FF00FF"/>
<circle cx="162.20" cy="370.62" r="2.50" fill="#FF00FF"/>
<circle cx="170.66" cy="370.62" r="2.50" fill="#FF00FF"/>
<circle cx="179.12" cy="370.62" r="2.50" fill="#FF00FF"/>
<circle cx="187.58" cy="370.62" r="2.50" fill="#FF00FF"/>
<circle cx="196.04" cy="370.62" r="2.50" fill="#FF00FF"/>
<circle cx="204.50" cy="370.62" r="2.50" fill="#FF00FF"/>
<polyline points="43.76,369.98 52.22,369.98 60.68,369.98 69.14,368.97 77.60,359.22 86.06,334.30 94.52,302.12 102.98,272.70 111.44,259.55 119.90,279.14 128.36,312.70 136.82,342.21 145.28,359.13 153.74,366.48 162.20,368.69 170.66,369.61 179.12,369.61 187.58,369.79 196.04,369.79 204.50,369.79" fill="none" stroke="#FF8000" stroke-width="0.8" stroke-linejoin="round"/>
<path d="M43.76 366.64L46.86 371.64L40.66 371.64Z" fill="#FF8000"/>
<path d="M52.22 366.64L55.32 371.64L49.12 371.64Z" fill="#FF8000"/>
<path d="M60.68 366.64L63.78 371.64L57.58 371.64Z" fill="#FF8000"/>
<path d="M69.14 365.63L72.24 370.63L66.04 370.63Z" fill="#FF8000"/>
<path d="M77.60 355.89L80.70 360.89L74.50 360.89Z" fill="#FF8000"/>
<path d="M86.06 330.97L89.16 335.97L82.96 335.97Z" fill="#FF8000"/>
<path d="M94.52 298.79L97.62 303.79L91.42 303.79Z" fill="#FF8000"/>
<path d="M102.98 269.37L106.08 274.37L99.88 274.37Z" fill="#FF8000"/>
<path d="M111.44 256.22L114.54 261.22L108.34 261.22Z" fill="#FF8000"/>
<path d="M119.90 275.80L123.00 280.80L116.80 280.80Z" fill="#FF8000"/>
<path d="M128.36 309.36L131.46 314.36L125.26 314.36Z" fill="#FF8000"/>
<path d="M136.82 338.88L139.92 343.88L133.72 343.88Z" fill="#FF8000"/>
<path d="M145.28 355.79L148.38 360.79L142.18 360.79Z" fill="#FF8000"/>
<path d="M153.74 363.15L156.84 368.15L150.64 368.15Z" fill="#FF8000"/>
<path d="M162.20 365.36L165.30 370.36L159.10 370.36Z" fill="#FF8000"/>
<path d="M170.66 366.28L173.76 371.28L167.56 371.28Z" fill="#FF8000"/>
<path d="M179.12 366.28L182.22 371.28L176.02 371.28Z" fill="#FF8000"/>
<path d="M187.58 366.46L190.68 371.46L184.48 371.46Z" fill="#FF8000"/>
<path d="M196.04 366.46L199.14 371.46L192.94 371.46Z" fill="#FF8000"/>
<path d="M204.50 366.46L207.60 371.46L201.40 371.46Z" fill="#FF8000"/>
</g>
<line x1="136.50" y1="221.00" x2="155.00" y2="221.00" stroke="#00FFFF" stroke-width="0.8"/>
<rect x="143.25" y="218.50" width="5.00" height="5.00" fill="#00FFFF"/>
<text class="lg" x="157.00" y="223.80"><tspan class="it">m/z</tspan> 78</text>
<line x1="136.50" y1="233.55" x2="155.00" y2="233.55" stroke="#FF00FF" stroke-width="0.8"/>
<circle cx="145.75" cy="233.55" r="2.50" fill="#FF00FF"/>
<text class="lg" x="157.00" y="236.35"><tspan class="it">m/z</tspan> 92</text>
<line x1="136.50" y1="246.10" x2="155.00" y2="246.10" stroke="#FF8000" stroke-width="0.8"/>
<path d="M145.75 242.77L148.85 247.77L142.65 247.77Z" fill="#FF8000"/>
<text class="lg" x="157.00" y="248.90"><tspan class="it">m/z</tspan> 106</text>
<text class="tl" x="40.60" y="219.00">(d) PP/20% HZSM-5</text>
<g clip-path="url(#c11)">
<polyline points="212.95,370.90 221.40,370.90 229.85,370.90 238.30,370.62 246.75,369.61 255.20,368.14 263.65,366.02 272.10,364.64 280.55,364.00 289.00,364.64 297.45,364.64 305.90,365.01 314.35,367.13 322.80,369.61 331.25,370.62 339.70,370.90 348.15,370.90 356.60,370.90 365.05,370.90 373.50,370.90" fill="none" stroke="#00FFFF" stroke-width="0.8" stroke-linejoin="round"/>
<rect x="210.45" y="368.40" width="5.00" height="5.00" fill="#00FFFF"/>
<rect x="218.90" y="368.40" width="5.00" height="5.00" fill="#00FFFF"/>
<rect x="227.35" y="368.40" width="5.00" height="5.00" fill="#00FFFF"/>
<rect x="235.80" y="368.12" width="5.00" height="5.00" fill="#00FFFF"/>
<rect x="244.25" y="367.11" width="5.00" height="5.00" fill="#00FFFF"/>
<rect x="252.70" y="365.64" width="5.00" height="5.00" fill="#00FFFF"/>
<rect x="261.15" y="363.52" width="5.00" height="5.00" fill="#00FFFF"/>
<rect x="269.60" y="362.14" width="5.00" height="5.00" fill="#00FFFF"/>
<rect x="278.05" y="361.50" width="5.00" height="5.00" fill="#00FFFF"/>
<rect x="286.50" y="362.14" width="5.00" height="5.00" fill="#00FFFF"/>
<rect x="294.95" y="362.14" width="5.00" height="5.00" fill="#00FFFF"/>
<rect x="303.40" y="362.51" width="5.00" height="5.00" fill="#00FFFF"/>
<rect x="311.85" y="364.63" width="5.00" height="5.00" fill="#00FFFF"/>
<rect x="320.30" y="367.11" width="5.00" height="5.00" fill="#00FFFF"/>
<rect x="328.75" y="368.12" width="5.00" height="5.00" fill="#00FFFF"/>
<rect x="337.20" y="368.40" width="5.00" height="5.00" fill="#00FFFF"/>
<rect x="345.65" y="368.40" width="5.00" height="5.00" fill="#00FFFF"/>
<rect x="354.10" y="368.40" width="5.00" height="5.00" fill="#00FFFF"/>
<rect x="362.55" y="368.40" width="5.00" height="5.00" fill="#00FFFF"/>
<rect x="371.00" y="368.40" width="5.00" height="5.00" fill="#00FFFF"/>
<polyline points="212.95,370.62 221.40,370.62 229.85,370.62 238.30,369.24 246.75,363.36 255.20,352.05 263.65,338.99 272.10,329.25 280.55,325.84 289.00,328.51 297.45,334.21 305.90,343.59 314.35,355.63 322.80,366.02 331.25,369.70 339.70,370.62 348.15,370.62 356.60,370.62 365.05,370.62 373.50,370.62" fill="none" stroke="#FF00FF" stroke-width="0.8" stroke-linejoin="round"/>
<circle cx="212.95" cy="370.62" r="2.50" fill="#FF00FF"/>
<circle cx="221.40" cy="370.62" r="2.50" fill="#FF00FF"/>
<circle cx="229.85" cy="370.62" r="2.50" fill="#FF00FF"/>
<circle cx="238.30" cy="369.24" r="2.50" fill="#FF00FF"/>
<circle cx="246.75" cy="363.36" r="2.50" fill="#FF00FF"/>
<circle cx="255.20" cy="352.05" r="2.50" fill="#FF00FF"/>
<circle cx="263.65" cy="338.99" r="2.50" fill="#FF00FF"/>
<circle cx="272.10" cy="329.25" r="2.50" fill="#FF00FF"/>
<circle cx="280.55" cy="325.84" r="2.50" fill="#FF00FF"/>
<circle cx="289.00" cy="328.51" r="2.50" fill="#FF00FF"/>
<circle cx="297.45" cy="334.21" r="2.50" fill="#FF00FF"/>
<circle cx="305.90" cy="343.59" r="2.50" fill="#FF00FF"/>
<circle cx="314.35" cy="355.63" r="2.50" fill="#FF00FF"/>
<circle cx="322.80" cy="366.02" r="2.50" fill="#FF00FF"/>
<circle cx="331.25" cy="369.70" r="2.50" fill="#FF00FF"/>
<circle cx="339.70" cy="370.62" r="2.50" fill="#FF00FF"/>
<circle cx="348.15" cy="370.62" r="2.50" fill="#FF00FF"/>
<circle cx="356.60" cy="370.62" r="2.50" fill="#FF00FF"/>
<circle cx="365.05" cy="370.62" r="2.50" fill="#FF00FF"/>
<circle cx="373.50" cy="370.62" r="2.50" fill="#FF00FF"/>
<polyline points="212.95,369.98 221.40,369.98 229.85,369.70 238.30,367.13 246.75,357.75 255.20,340.37 263.65,321.61 272.10,310.49 280.55,304.24 289.00,309.20 297.45,320.51 305.90,336.33 314.35,352.97 322.80,364.00 331.25,368.78 339.70,369.70 348.15,369.79 356.60,369.79 365.05,369.79 373.50,369.79" fill="none" stroke="#FF8000" stroke-width="0.8" stroke-linejoin="round"/>
<path d="M212.95 366.64L216.05 371.64L209.85 371.64Z" fill="#FF8000"/>
<path d="M221.40 366.64L224.50 371.64L218.30 371.64Z" fill="#FF8000"/>
<path d="M229.85 366.37L232.95 371.37L226.75 371.37Z" fill="#FF8000"/>
<path d="M238.30 363.79L241.40 368.79L235.20 368.79Z" fill="#FF8000"/>
<path d="M246.75 354.42L249.85 359.42L243.65 359.42Z" fill="#FF8000"/>
<path d="M255.20 337.04L258.30 342.04L252.10 342.04Z" fill="#FF8000"/>
<path d="M263.65 318.28L266.75 323.28L260.55 323.28Z" fill="#FF8000"/>
<path d="M272.10 307.16L275.20 312.16L269.00 312.16Z" fill="#FF8000"/>
<path d="M280.55 300.90L283.65 305.90L277.45 305.90Z" fill="#FF8000"/>
<path d="M289.00 305.87L292.10 310.87L285.90 310.87Z" fill="#FF8000"/>
<path d="M297.45 317.18L300.55 322.18L294.35 322.18Z" fill="#FF8000"/>
<path d="M305.90 332.99L309.00 337.99L302.80 337.99Z" fill="#FF8000"/>
<path d="M314.35 349.63L317.45 354.63L311.25 354.63Z" fill="#FF8000"/>
<path d="M322.80 360.67L325.90 365.67L319.70 365.67Z" fill="#FF8000"/>
<path d="M331.25 365.45L334.35 370.45L328.15 370.45Z" fill="#FF8000"/>
<path d="M339.70 366.37L342.80 371.37L336.60 371.37Z" fill="#FF8000"/>
<path d="M348.15 366.46L351.25 371.46L345.05 371.46Z" fill="#FF8000"/>
<path d="M356.60 366.46L359.70 371.46L353.50 371.46Z" fill="#FF8000"/>
<path d="M365.05 366.46L368.15 371.46L361.95 371.46Z" fill="#FF8000"/>
<path d="M373.50 366.46L376.60 371.46L370.40 371.46Z" fill="#FF8000"/>
</g>
<line x1="305.70" y1="221.00" x2="324.20" y2="221.00" stroke="#00FFFF" stroke-width="0.8"/>
<rect x="312.45" y="218.50" width="5.00" height="5.00" fill="#00FFFF"/>
<text class="lg" x="326.20" y="223.80"><tspan class="it">m/z</tspan> 78</text>
<line x1="305.70" y1="233.55" x2="324.20" y2="233.55" stroke="#FF00FF" stroke-width="0.8"/>
<circle cx="314.95" cy="233.55" r="2.50" fill="#FF00FF"/>
<text class="lg" x="326.20" y="236.35"><tspan class="it">m/z</tspan> 92</text>
<line x1="305.70" y1="246.10" x2="324.20" y2="246.10" stroke="#FF8000" stroke-width="0.8"/>
<path d="M314.95 242.77L318.05 247.77L311.85 247.77Z" fill="#FF8000"/>
<text class="lg" x="326.20" y="248.90"><tspan class="it">m/z</tspan> 106</text>
<text class="tl" x="212.30" y="219.00">(e) PP/30% HZSM-5</text>
<g clip-path="url(#c12)">
<polyline points="381.98,370.90 390.45,370.90 398.93,370.90 407.40,370.62 415.88,369.61 424.35,368.78 432.82,367.13 441.30,364.64 449.77,362.90 458.25,361.70 466.73,360.78 475.20,361.24 483.68,362.90 492.15,365.38 500.62,368.78 509.10,370.16 517.58,370.90 526.05,370.90 534.52,370.90 543.00,370.90" fill="none" stroke="#00FFFF" stroke-width="0.8" stroke-linejoin="round"/>
<rect x="379.48" y="368.40" width="5.00" height="5.00" fill="#00FFFF"/>
<rect x="387.95" y="368.40" width="5.00" height="5.00" fill="#00FFFF"/>
<rect x="396.43" y="368.40" width="5.00" height="5.00" fill="#00FFFF"/>
<rect x="404.90" y="368.12" width="5.00" height="5.00" fill="#00FFFF"/>
<rect x="413.38" y="367.11" width="5.00" height="5.00" fill="#00FFFF"/>
<rect x="421.85" y="366.28" width="5.00" height="5.00" fill="#00FFFF"/>
<rect x="430.32" y="364.63" width="5.00" height="5.00" fill="#00FFFF"/>
<rect x="438.80" y="362.14" width="5.00" height="5.00" fill="#00FFFF"/>
<rect x="447.27" y="360.40" width="5.00" height="5.00" fill="#00FFFF"/>
<rect x="455.75" y="359.20" width="5.00" height="5.00" fill="#00FFFF"/>
<rect x="464.23" y="358.28" width="5.00" height="5.00" fill="#00FFFF"/>
<rect x="472.70" y="358.74" width="5.00" height="5.00" fill="#00FFFF"/>
<rect x="481.18" y="360.40" width="5.00" height="5.00" fill="#00FFFF"/>
<rect x="489.65" y="362.88" width="5.00" height="5.00" fill="#00FFFF"/>
<rect x="498.12" y="366.28" width="5.00" height="5.00" fill="#00FFFF"/>
<rect x="506.60" y="367.66" width="5.00" height="5.00" fill="#00FFFF"/>
<rect x="515.08" y="368.40" width="5.00" height="5.00" fill="#00FFFF"/>
<rect x="523.55" y="368.40" width="5.00" height="5.00" fill="#00FFFF"/>
<rect x="532.02" y="368.40" width="5.00" height="5.00" fill="#00FFFF"/>
<rect x="540.50" y="368.40" width="5.00" height="5.00" fill="#00FFFF"/>
<polyline points="381.98,370.62 390.45,370.62 398.93,370.62 407.40,368.14 415.88,363.36 424.35,353.61 432.82,341.11 441.30,332.10 449.77,325.02 458.25,320.24 466.73,320.88 475.20,327.50 483.68,338.99 492.15,352.60 500.62,363.36 509.10,369.24 517.58,370.62 526.05,370.62 534.52,370.62 543.00,370.62" fill="none" stroke="#FF00FF" stroke-width="0.8" stroke-linejoin="round"/>
<circle cx="381.98" cy="370.62" r="2.50" fill="#FF00FF"/>
<circle cx="390.45" cy="370.62" r="2.50" fill="#FF00FF"/>
<circle cx="398.93" cy="370.62" r="2.50" fill="#FF00FF"/>
<circle cx="407.40" cy="368.14" r="2.50" fill="#FF00FF"/>
<circle cx="415.88" cy="363.36" r="2.50" fill="#FF00FF"/>
<circle cx="424.35" cy="353.61" r="2.50" fill="#FF00FF"/>
<circle cx="432.82" cy="341.11" r="2.50" fill="#FF00FF"/>
<circle cx="441.30" cy="332.10" r="2.50" fill="#FF00FF"/>
<circle cx="449.77" cy="325.02" r="2.50" fill="#FF00FF"/>
<circle cx="458.25" cy="320.24" r="2.50" fill="#FF00FF"/>
<circle cx="466.73" cy="320.88" r="2.50" fill="#FF00FF"/>
<circle cx="475.20" cy="327.50" r="2.50" fill="#FF00FF"/>
<circle cx="483.68" cy="338.99" r="2.50" fill="#FF00FF"/>
<circle cx="492.15" cy="352.60" r="2.50" fill="#FF00FF"/>
<circle cx="500.62" cy="363.36" r="2.50" fill="#FF00FF"/>
<circle cx="509.10" cy="369.24" r="2.50" fill="#FF00FF"/>
<circle cx="517.58" cy="370.62" r="2.50" fill="#FF00FF"/>
<circle cx="526.05" cy="370.62" r="2.50" fill="#FF00FF"/>
<circle cx="534.52" cy="370.62" r="2.50" fill="#FF00FF"/>
<circle cx="543.00" cy="370.62" r="2.50" fill="#FF00FF"/>
<polyline points="381.98,370.35 390.45,370.35 398.93,369.24 407.40,364.64 415.88,357.75 424.35,342.12 432.82,322.35 441.30,311.87 449.77,306.26 458.25,302.12 466.73,305.98 475.20,318.76 483.68,336.88 492.15,352.97 500.62,363.36 509.10,369.24 517.58,370.62 526.05,370.62 534.52,370.62 543.00,370.62" fill="none" stroke="#FF8000" stroke-width="0.8" stroke-linejoin="round"/>
<path d="M381.98 367.01L385.08 372.01L378.88 372.01Z" fill="#FF8000"/>
<path d="M390.45 367.01L393.55 372.01L387.35 372.01Z" fill="#FF8000"/>
<path d="M398.93 365.91L402.03 370.91L395.82 370.91Z" fill="#FF8000"/>
<path d="M407.40 361.31L410.50 366.31L404.30 366.31Z" fill="#FF8000"/>
<path d="M415.88 354.42L418.98 359.42L412.77 359.42Z" fill="#FF8000"/>
<path d="M424.35 338.78L427.45 343.78L421.25 343.78Z" fill="#FF8000"/>
<path d="M432.82 319.02L435.93 324.02L429.72 324.02Z" fill="#FF8000"/>
<path d="M441.30 308.54L444.40 313.54L438.20 313.54Z" fill="#FF8000"/>
<path d="M449.77 302.93L452.88 307.93L446.67 307.93Z" fill="#FF8000"/>
<path d="M458.25 298.79L461.35 303.79L455.15 303.79Z" fill="#FF8000"/>
<path d="M466.73 302.65L469.83 307.65L463.62 307.65Z" fill="#FF8000"/>
<path d="M475.20 315.43L478.30 320.43L472.10 320.43Z" fill="#FF8000"/>
<path d="M483.68 333.54L486.78 338.54L480.57 338.54Z" fill="#FF8000"/>
<path d="M492.15 349.63L495.25 354.63L489.05 354.63Z" fill="#FF8000"/>
<path d="M500.62 360.02L503.73 365.02L497.52 365.02Z" fill="#FF8000"/>
<path d="M509.10 365.91L512.20 370.91L506.00 370.91Z" fill="#FF8000"/>
<path d="M517.58 367.29L520.68 372.29L514.48 372.29Z" fill="#FF8000"/>
<path d="M526.05 367.29L529.15 372.29L522.95 372.29Z" fill="#FF8000"/>
<path d="M534.52 367.29L537.62 372.29L531.42 372.29Z" fill="#FF8000"/>
<path d="M543.00 367.29L546.10 372.29L539.90 372.29Z" fill="#FF8000"/>
</g>
<line x1="474.70" y1="221.00" x2="493.20" y2="221.00" stroke="#00FFFF" stroke-width="0.8"/>
<rect x="481.45" y="218.50" width="5.00" height="5.00" fill="#00FFFF"/>
<text class="lg" x="495.20" y="223.80"><tspan class="it">m/z</tspan> 78</text>
<line x1="474.70" y1="233.55" x2="493.20" y2="233.55" stroke="#FF00FF" stroke-width="0.8"/>
<circle cx="483.95" cy="233.55" r="2.50" fill="#FF00FF"/>
<text class="lg" x="495.20" y="236.35"><tspan class="it">m/z</tspan> 92</text>
<line x1="474.70" y1="246.10" x2="493.20" y2="246.10" stroke="#FF8000" stroke-width="0.8"/>
<path d="M483.95 242.77L487.05 247.77L480.85 247.77Z" fill="#FF8000"/>
<text class="lg" x="495.20" y="248.90"><tspan class="it">m/z</tspan> 106</text>
<text class="tl" x="382.70" y="219.00">(f) PP/40% HZSM-5</text>
<rect x="35.30" y="206.50" width="169.20" height="165.50" fill="none" stroke="#2e2e2e" stroke-width="1.3"/>
<line x1="35.30" y1="372.00" x2="35.30" y2="374.60" stroke="#2e2e2e" stroke-width="1"/>
<line x1="77.60" y1="372.00" x2="77.60" y2="374.60" stroke="#2e2e2e" stroke-width="1"/>
<line x1="119.90" y1="372.00" x2="119.90" y2="374.60" stroke="#2e2e2e" stroke-width="1"/>
<line x1="162.20" y1="372.00" x2="162.20" y2="374.60" stroke="#2e2e2e" stroke-width="1"/>
<line x1="204.50" y1="372.00" x2="204.50" y2="374.60" stroke="#2e2e2e" stroke-width="1"/>
<line x1="56.45" y1="372.00" x2="56.45" y2="373.60" stroke="#2e2e2e" stroke-width="1"/>
<line x1="98.75" y1="372.00" x2="98.75" y2="373.60" stroke="#2e2e2e" stroke-width="1"/>
<line x1="141.05" y1="372.00" x2="141.05" y2="373.60" stroke="#2e2e2e" stroke-width="1"/>
<line x1="183.35" y1="372.00" x2="183.35" y2="373.60" stroke="#2e2e2e" stroke-width="1"/>
<text class="tk" transform="translate(35.30 383.80) scale(1 1.07)" text-anchor="middle">0</text>
<text class="tk" transform="translate(77.60 383.80) scale(1 1.07)" text-anchor="middle">5</text>
<text class="tk" transform="translate(119.90 383.80) scale(1 1.07)" text-anchor="middle">10</text>
<text class="tk" transform="translate(162.20 383.80) scale(1 1.07)" text-anchor="middle">15</text>
<line x1="32.50" y1="372.00" x2="35.30" y2="372.00" stroke="#2e2e2e" stroke-width="1"/>
<line x1="33.50" y1="353.61" x2="35.30" y2="353.61" stroke="#2e2e2e" stroke-width="1"/>
<line x1="32.50" y1="335.22" x2="35.30" y2="335.22" stroke="#2e2e2e" stroke-width="1"/>
<line x1="33.50" y1="316.83" x2="35.30" y2="316.83" stroke="#2e2e2e" stroke-width="1"/>
<line x1="32.50" y1="298.44" x2="35.30" y2="298.44" stroke="#2e2e2e" stroke-width="1"/>
<line x1="33.50" y1="280.06" x2="35.30" y2="280.06" stroke="#2e2e2e" stroke-width="1"/>
<line x1="32.50" y1="261.67" x2="35.30" y2="261.67" stroke="#2e2e2e" stroke-width="1"/>
<line x1="33.50" y1="243.28" x2="35.30" y2="243.28" stroke="#2e2e2e" stroke-width="1"/>
<line x1="32.50" y1="224.89" x2="35.30" y2="224.89" stroke="#2e2e2e" stroke-width="1"/>
<text class="tk" transform="translate(30.70 375.10) scale(1 1.07)" text-anchor="end">0</text>
<text class="tk" transform="translate(30.70 338.32) scale(1 1.07)" text-anchor="end">4</text>
<text class="tk" transform="translate(30.70 301.54) scale(1 1.07)" text-anchor="end">8</text>
<text class="tk" transform="translate(30.70 264.77) scale(1 1.07)" text-anchor="end">12</text>
<text class="tk" transform="translate(30.70 227.99) scale(1 1.07)" text-anchor="end">16</text>
<text class="ax" transform="translate(120.30 400.60) scale(1 1.07)" text-anchor="middle">Time (s)</text>
<rect x="204.50" y="206.50" width="169.00" height="165.50" fill="none" stroke="#2e2e2e" stroke-width="1.3"/>
<line x1="204.50" y1="372.00" x2="204.50" y2="374.60" stroke="#2e2e2e" stroke-width="1"/>
<line x1="246.75" y1="372.00" x2="246.75" y2="374.60" stroke="#2e2e2e" stroke-width="1"/>
<line x1="289.00" y1="372.00" x2="289.00" y2="374.60" stroke="#2e2e2e" stroke-width="1"/>
<line x1="331.25" y1="372.00" x2="331.25" y2="374.60" stroke="#2e2e2e" stroke-width="1"/>
<line x1="373.50" y1="372.00" x2="373.50" y2="374.60" stroke="#2e2e2e" stroke-width="1"/>
<line x1="225.62" y1="372.00" x2="225.62" y2="373.60" stroke="#2e2e2e" stroke-width="1"/>
<line x1="267.88" y1="372.00" x2="267.88" y2="373.60" stroke="#2e2e2e" stroke-width="1"/>
<line x1="310.12" y1="372.00" x2="310.12" y2="373.60" stroke="#2e2e2e" stroke-width="1"/>
<line x1="352.38" y1="372.00" x2="352.38" y2="373.60" stroke="#2e2e2e" stroke-width="1"/>
<text class="tk" transform="translate(204.50 383.80) scale(1 1.07)" text-anchor="middle">0</text>
<text class="tk" transform="translate(246.75 383.80) scale(1 1.07)" text-anchor="middle">5</text>
<text class="tk" transform="translate(289.00 383.80) scale(1 1.07)" text-anchor="middle">10</text>
<text class="tk" transform="translate(331.25 383.80) scale(1 1.07)" text-anchor="middle">15</text>
<line x1="201.70" y1="372.00" x2="204.50" y2="372.00" stroke="#2e2e2e" stroke-width="1"/>
<line x1="202.70" y1="353.61" x2="204.50" y2="353.61" stroke="#2e2e2e" stroke-width="1"/>
<line x1="201.70" y1="335.22" x2="204.50" y2="335.22" stroke="#2e2e2e" stroke-width="1"/>
<line x1="202.70" y1="316.83" x2="204.50" y2="316.83" stroke="#2e2e2e" stroke-width="1"/>
<line x1="201.70" y1="298.44" x2="204.50" y2="298.44" stroke="#2e2e2e" stroke-width="1"/>
<line x1="202.70" y1="280.06" x2="204.50" y2="280.06" stroke="#2e2e2e" stroke-width="1"/>
<line x1="201.70" y1="261.67" x2="204.50" y2="261.67" stroke="#2e2e2e" stroke-width="1"/>
<line x1="202.70" y1="243.28" x2="204.50" y2="243.28" stroke="#2e2e2e" stroke-width="1"/>
<line x1="201.70" y1="224.89" x2="204.50" y2="224.89" stroke="#2e2e2e" stroke-width="1"/>
<text class="tk" transform="translate(199.90 338.32) scale(1 1.07)" text-anchor="end">4</text>
<text class="tk" transform="translate(199.90 301.54) scale(1 1.07)" text-anchor="end">8</text>
<text class="tk" transform="translate(199.90 264.77) scale(1 1.07)" text-anchor="end">12</text>
<text class="tk" transform="translate(199.90 227.99) scale(1 1.07)" text-anchor="end">16</text>
<text class="ax" transform="translate(289.40 400.60) scale(1 1.07)" text-anchor="middle">Time (s)</text>
<rect x="373.50" y="206.50" width="169.50" height="165.50" fill="none" stroke="#2e2e2e" stroke-width="1.3"/>
<line x1="373.50" y1="372.00" x2="373.50" y2="374.60" stroke="#2e2e2e" stroke-width="1"/>
<line x1="415.88" y1="372.00" x2="415.88" y2="374.60" stroke="#2e2e2e" stroke-width="1"/>
<line x1="458.25" y1="372.00" x2="458.25" y2="374.60" stroke="#2e2e2e" stroke-width="1"/>
<line x1="500.62" y1="372.00" x2="500.62" y2="374.60" stroke="#2e2e2e" stroke-width="1"/>
<line x1="543.00" y1="372.00" x2="543.00" y2="374.60" stroke="#2e2e2e" stroke-width="1"/>
<line x1="394.69" y1="372.00" x2="394.69" y2="373.60" stroke="#2e2e2e" stroke-width="1"/>
<line x1="437.06" y1="372.00" x2="437.06" y2="373.60" stroke="#2e2e2e" stroke-width="1"/>
<line x1="479.44" y1="372.00" x2="479.44" y2="373.60" stroke="#2e2e2e" stroke-width="1"/>
<line x1="521.81" y1="372.00" x2="521.81" y2="373.60" stroke="#2e2e2e" stroke-width="1"/>
<text class="tk" transform="translate(373.50 383.80) scale(1 1.07)" text-anchor="middle">0</text>
<text class="tk" transform="translate(415.88 383.80) scale(1 1.07)" text-anchor="middle">5</text>
<text class="tk" transform="translate(458.25 383.80) scale(1 1.07)" text-anchor="middle">10</text>
<text class="tk" transform="translate(500.62 383.80) scale(1 1.07)" text-anchor="middle">15</text>
<text class="tk" transform="translate(543.00 383.80) scale(1 1.07)" text-anchor="middle">20</text>
<line x1="370.70" y1="372.00" x2="373.50" y2="372.00" stroke="#2e2e2e" stroke-width="1"/>
<line x1="371.70" y1="353.61" x2="373.50" y2="353.61" stroke="#2e2e2e" stroke-width="1"/>
<line x1="370.70" y1="335.22" x2="373.50" y2="335.22" stroke="#2e2e2e" stroke-width="1"/>
<line x1="371.70" y1="316.83" x2="373.50" y2="316.83" stroke="#2e2e2e" stroke-width="1"/>
<line x1="370.70" y1="298.44" x2="373.50" y2="298.44" stroke="#2e2e2e" stroke-width="1"/>
<line x1="371.70" y1="280.06" x2="373.50" y2="280.06" stroke="#2e2e2e" stroke-width="1"/>
<line x1="370.70" y1="261.67" x2="373.50" y2="261.67" stroke="#2e2e2e" stroke-width="1"/>
<line x1="371.70" y1="243.28" x2="373.50" y2="243.28" stroke="#2e2e2e" stroke-width="1"/>
<line x1="370.70" y1="224.89" x2="373.50" y2="224.89" stroke="#2e2e2e" stroke-width="1"/>
<text class="tk" transform="translate(368.90 338.32) scale(1 1.07)" text-anchor="end">4</text>
<text class="tk" transform="translate(368.90 301.54) scale(1 1.07)" text-anchor="end">8</text>
<text class="tk" transform="translate(368.90 264.77) scale(1 1.07)" text-anchor="end">12</text>
<text class="tk" transform="translate(368.90 227.99) scale(1 1.07)" text-anchor="end">16</text>
<text class="ax" transform="translate(458.65 400.60) scale(1 1.07)" text-anchor="middle">Time (s)</text>
<text class="ax" style="font-size:11.4px" transform="translate(13.3 289.95) rotate(-90)" x="0" y="0" text-anchor="middle">Signal intensity (a.u.)</text>
</svg>
</body></html>
